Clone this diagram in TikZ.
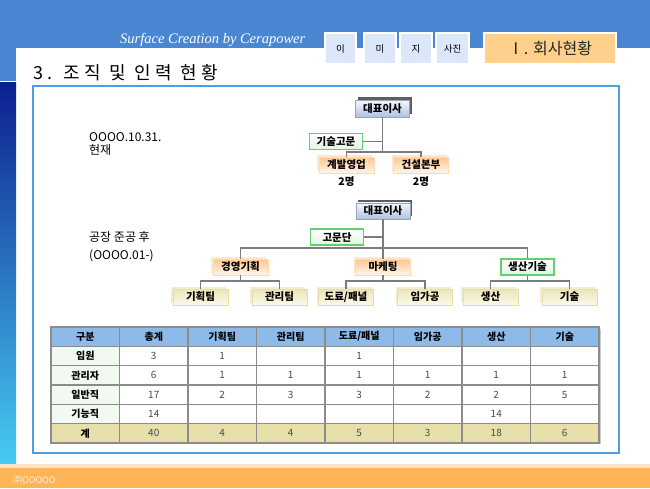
\documentclass[tikz,border=0pt]{standalone}
\usepackage{fontspec}
\setmainfont{Noto Sans CJK KR}
\newfontfamily\brandfont{Liberation Serif}
\newfontfamily\titlefont[LetterSpace=24]{Noto Sans CJK KR}
\usetikzlibrary{positioning,shadows}

\definecolor{bandblue}{HTML}{4A87D3}
\definecolor{stripTop}{HTML}{0B1F8F}
\definecolor{stripMid}{HTML}{2F7FDD}
\definecolor{stripBot}{HTML}{48CBF2}
\definecolor{tabblue}{HTML}{DCE8F9}
\definecolor{taborange}{HTML}{FFD08C}
\definecolor{frameblue}{HTML}{4E9EE6}
\definecolor{footpeach}{HTML}{FFE3C6}
\definecolor{footorange}{HTML}{FFB457}
\definecolor{ceoTop}{HTML}{F4F7FC}
\definecolor{ceoBot}{HTML}{AFC2DE}
\definecolor{ceoEdge}{HTML}{98A6BA}
\definecolor{ceoShade}{HTML}{5E5E5E}
\definecolor{advEdge}{HTML}{62CF70}
\definecolor{advBot}{HTML}{E2F5E2}
\definecolor{deptTop}{HTML}{FFC690}
\definecolor{deptBot}{HTML}{FFF5EA}
\definecolor{deptEdge}{HTML}{FFD9B2}
\definecolor{deptShade}{HTML}{FFE6CC}
\definecolor{teamTop}{HTML}{ECE5B8}
\definecolor{teamBot}{HTML}{FBF9EA}
\definecolor{teamEdge}{HTML}{E4DDAC}
\definecolor{teamShade}{HTML}{F1EDCF}
\definecolor{wiregray}{HTML}{7C7C7C}
\definecolor{gridgray}{HTML}{8C8C8C}
\definecolor{headblue}{HTML}{8DBAE9}
\definecolor{leftgreen}{HTML}{F1F9F1}
\definecolor{sumkhaki}{HTML}{E6DFA9}
\definecolor{numgray}{HTML}{4A4A4A}

\begin{document}
\begin{tikzpicture}[
	x=1pt, y=-1pt,
	font=\fontsize{10.5}{12}\selectfont\bfseries,
	ceo/.style={rectangle, draw=ceoEdge, top color=ceoTop, bottom color=ceoBot, minimum width=54pt, minimum height=16.5pt, inner sep=0pt, drop shadow={shadow xshift=2pt, shadow yshift=3pt, fill=ceoShade, opacity=1}},
	adv/.style={rectangle, draw=advEdge, line width=1.2pt, top color=white, bottom color=advBot, minimum width=53pt, minimum height=16pt, inner sep=0pt},
	dept/.style={rectangle, draw=deptEdge, top color=deptTop, bottom color=deptBot, minimum width=55pt, minimum height=16pt, inner sep=0pt, drop shadow={shadow xshift=-2pt, shadow yshift=2.5pt, fill=deptShade, opacity=1}},
	team/.style={rectangle, draw=teamEdge, top color=teamTop, bottom color=teamBot, minimum width=55pt, minimum height=16pt, inner sep=0pt, drop shadow={shadow xshift=-2pt, shadow yshift=2.5pt, fill=teamShade, opacity=1}},
	wire/.style={draw=wiregray, line width=1.4pt},
	tab/.style={rectangle, draw=white, line width=2pt, fill=tabblue, minimum height=31pt, inner sep=0pt, font=\fontsize{9.5}{10}\selectfont},
	cell/.style={rectangle, draw=gridgray, line width=1.2pt, minimum width=68.5pt, minimum height=19.33pt, inner sep=0pt, font=\fontsize{10}{11}\selectfont, drop shadow={shadow xshift=1.5pt, shadow yshift=-1.5pt, fill=gray!40, opacity=1}},
	headcell/.style={fill=headblue, text=black, font=\fontsize{10}{11}\selectfont\bfseries},
	namecell/.style={fill=leftgreen, text=black, font=\fontsize{10}{11}\selectfont\bfseries},
	sumcell/.style={fill=sumkhaki, text=numgray},
	numcell/.style={fill=white, text=numgray},
	cellsel/.code={%
		\ifnum\ri=1 \pgfkeysalso{/tikz/headcell}%
		\else\ifnum\ri=6 \ifnum\ci=1 \pgfkeysalso{/tikz/sumcell,/tikz/text=black,/tikz/font=\fontsize{10}{11}\selectfont\bfseries}\else\pgfkeysalso{/tikz/sumcell}\fi%
		\else\ifnum\ci=1 \pgfkeysalso{/tikz/namecell}%
		\else \pgfkeysalso{/tikz/numcell}\fi\fi\fi}
]
\useasboundingbox (0,0) rectangle (650,488);

% --- Page frame ---
\fill[white] (0,0) rectangle (650,488);
\fill[bandblue] (0,0) rectangle (650,48);
\fill[bandblue] (0,48) rectangle (16,81);
\shade[top color=stripTop, middle color=stripMid, bottom color=stripBot] (0,82) rectangle (16,464);
\fill[footpeach] (0,464) rectangle (650,467.5);
\fill[footorange] (0,467.5) rectangle (650,488);

\node[anchor=west, inner sep=0pt, text=white, font=\brandfont\itshape\fontsize{14.5}{16}\selectfont] (brand) at (120,40) {Surface Creation by Cerapower};
\node[anchor=west, inner sep=0pt, text=white!92!orange, font=\fontsize{9}{10}\selectfont] (corp) at (13,480.5) {㈜OOOOO};

% --- Tabs ---
\node[tab, minimum width=31pt] (tabA) at (340.5,48.5) {이};
\node[tab, minimum width=32pt] (tabB) at (380,48.5) {미};
\node[tab, minimum width=32pt] (tabC) at (416,48.5) {지};
\node[tab, minimum width=33pt] (tabD) at (452.5,48.5) {사진};
\node[tab, fill=taborange, minimum width=132pt, font=\fontsize{16}{17}\selectfont, text=black!85] (tabE) at (550,48.5) {Ⅰ. 회사현황};

\node[anchor=west, inner sep=0pt, font=\titlefont\fontsize{18}{20}\selectfont] (title) at (33,73) {3. 조직 및 인력 현황};

\draw[frameblue, line width=1.6pt] (33,86) rectangle (619,453);

% --- Current organisation ---
\node[anchor=west, align=left, inner sep=0pt, font=\fontsize{12}{13.5}\selectfont] (now) at (89,144) {OOOO.10.31.\\현재};
\node[ceo] (ceo1) at (382.5,108.5) {대표이사};
\node[adv] (adv1) at (336,141.5) {기술고문};
\node[dept] (dev1) at (346.5,165) {계발영업};
\node[dept] (con1) at (421,165) {건설본부};
\node[below=0pt of dev1] (dev1n) {2명};
\node[below=0pt of con1] (con1n) {2명};

\coordinate (br1) at (382.5,152);
\draw[wire] (ceo1.south) -- (br1);
\draw[wire] (adv1.east) -- (adv1.east -| ceo1.south);
\draw[wire] (dev1.north) |- (br1) -| (con1.north);

% --- After plant completion ---
\node[anchor=west, align=left, inner sep=0pt, font=\fontsize{12}{18}\selectfont] (later) at (89,247) {공장 준공 후\\(OOOO.01-)};
\node[ceo] (ceo2) at (383,211) {대표이사};
\node[adv] (adv2) at (337,237) {고문단};
\node[dept] (plan) at (240.5,267) {경영기획};
\node[dept] (mkt) at (383,267) {마케팅};
\node[adv] (prod) at (527.5,267) {생산기술};

\node[team] (t1) at (200.5,297) {기획팀};
\node[team] (t2) at (279.5,297) {관리팀};
\node[team] (t3) at (346,297) {도료/패널};
\node[team] (t4) at (425,297) {임가공};
\node[team] (t5) at (490.5,297) {생산};
\node[team] (t6) at (569.5,297) {기술};

\coordinate (br2) at (383,248);
\coordinate (brA) at (240.5,281);
\coordinate (brB) at (383,281);
\coordinate (brC) at (527.5,281);
\draw[wire] (ceo2.south) -- (br2);
\draw[wire] (adv2.east) -- (adv2.east -| ceo2.south);
\draw[wire] (plan.north) |- (br2) -| (prod.north);
\draw[wire] (br2) -- (mkt.north);
\draw[wire] (plan.south) -- (brA);
\draw[wire] (mkt.south) -- (brB);
\draw[wire] (prod.south) -- (brC);
\draw[wire] (t1.north) |- (brA) -| (t2.north);
\draw[wire] (t3.north) |- (brB) -| (t4.north);
\draw[wire] (t5.north) |- (brC) -| (t6.north);

% --- Staff table ---
\foreach \row [count=\ri] in {
	{구분,총계,기획팀,관리팀,도료/패널,임가공,생산,기술},
	{임원,3,1,{},1,{},{},{}},
	{관리자,6,1,1,1,1,1,1},
	{일반직,17,2,3,3,2,2,5},
	{기능직,14,{},{},{},{},14,{}},
	{계,40,4,4,5,3,18,6}}{
	\foreach \val [count=\ci] in \row {
		\node[cell, cellsel] (cell-\ri-\ci) at ({51+68.5*(\ci-0.5)},{327+19.33*(\ri-0.5)}) {\val};
	}
}

\end{tikzpicture}
\end{document}
